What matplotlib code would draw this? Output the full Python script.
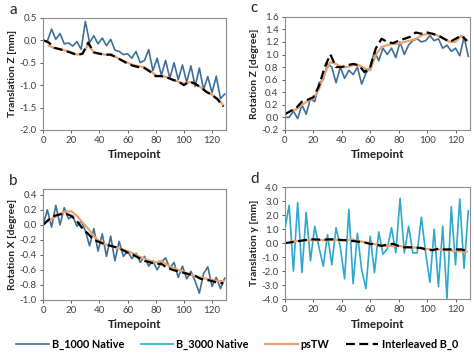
import matplotlib
matplotlib.use('Agg')
import matplotlib.pyplot as plt
from matplotlib.ticker import FuncFormatter
import numpy as np

plt.rcParams['font.family'] = ['Lato', 'DejaVu Sans']

# native series sampled every 3rd timepoint, smoothed/B_0 every 4th
t_native = np.arange(0, 130, 3)
t_smooth = np.arange(0, 129, 4)
nan = np.nan

# a: Translation Z [mm]
a_native = [0.0, -0.02, 0.25, 0.02, 0.15, -0.08, -0.06, -0.13, -0.03, -0.2, 0.42,
            -0.05, 0.1, -0.08, 0.05, -0.12, 0.02, -0.22, -0.25, -0.32, -0.3, -0.4,
            -0.25, -0.5, -0.45, -0.21, -0.68, -0.4, -0.78, -0.45, -0.85, -0.5, -0.88,
            -0.55, -0.94, -0.57, -1.03, -0.62, -1.1, -0.81, -1.17, -0.8, -1.3, -1.2]
a_b0 = [0.0, -0.05, -0.17, -0.2, -0.24, -0.28, -0.33, -0.3, -0.05, -0.27, -0.3,
        -0.32, -0.32, -0.38, -0.45, -0.52, -0.57, -0.6, -0.62, -0.7, -0.8, -0.8,
        -0.83, -0.88, -0.92, -1.0, -0.92, -0.97, -1.05, -1.15, -1.22, -1.32, -1.48]
a_pstw = [nan, -0.12, -0.17, -0.2, -0.23, -0.27, -0.32, -0.3, -0.1, -0.27, -0.3,
          -0.32, -0.33, -0.38, -0.45, -0.5, -0.55, -0.58, -0.6, -0.68, -0.78, -0.8,
          -0.82, -0.88, -0.92, -0.97, -0.93, -0.98, -1.05, -1.15, -1.22, -1.3, -1.45]

# c: Rotation Z [degree]
c_native = [0.0, 0.0, 0.1, -0.02, 0.2, 0.05, 0.3, 0.25, 0.55, 0.6, 0.85, 0.8, 0.55,
            0.8, 0.62, 0.75, 0.68, 0.8, 0.53, 0.7, 0.8, 1.05, 0.9, 1.1, 1.0, 1.1,
            0.95, 1.2, 1.0, 1.15, 1.22, 1.25, 1.2, 1.22, 1.3, 1.22, 1.25, 1.1, 1.15,
            1.05, 1.1, 0.98, 1.28, 0.97]
c_b0 = [0.05, 0.1, 0.15, 0.25, 0.28, 0.32, 0.5, 0.8, 1.0, 0.8, 0.8, 0.83, 0.85,
        0.83, 0.72, 0.8, 1.1, 1.25, 1.2, 1.18, 1.22, 1.25, 1.28, 1.35, 1.33, 1.35,
        1.33, 1.3, 1.25, 1.2, 1.25, 1.3, 1.22]
c_pstw = [nan, 0.1, 0.13, 0.2, 0.26, 0.3, 0.45, 0.7, 0.88, 0.85, 0.8, 0.8, 0.83,
          0.83, 0.78, 0.75, 1.0, 1.12, 1.15, 1.17, 1.17, 1.2, 1.22, 1.25, 1.3, 1.33,
          1.32, 1.3, 1.25, 1.2, 1.2, 1.3, 1.22]

# b: Rotation X [degree]
b_native = [0.0, 0.2, -0.03, 0.26, 0.0, 0.23, 0.08, 0.12, -0.02, 0.05, -0.08, -0.28,
            -0.05, -0.35, -0.12, -0.42, -0.15, -0.48, -0.22, -0.42, -0.35, -0.45,
            -0.38, -0.5, -0.42, -0.55, -0.48, -0.6, -0.5, -0.44, -0.58, -0.5, -0.7,
            -0.55, -0.72, -0.62, -0.75, -0.91, -0.65, -0.56, -0.82, -0.7, -0.85, -0.71]
b_b0 = [0.0, 0.07, 0.12, 0.14, 0.15, 0.12, 0.05, -0.05, -0.12, -0.2, -0.23, -0.26,
        -0.28, -0.3, -0.33, -0.37, -0.4, -0.44, -0.48, -0.5, -0.52, -0.52, -0.57,
        -0.6, -0.62, -0.64, -0.66, -0.68, -0.72, -0.73, -0.75, -0.77, -0.78]
b_pstw = [nan, 0.05, 0.1, 0.15, 0.18, 0.18, 0.12, 0.03, -0.05, -0.15, -0.22, -0.26,
          -0.28, -0.3, -0.33, -0.35, -0.38, -0.42, -0.45, -0.48, -0.5, -0.48, -0.53,
          -0.57, -0.6, -0.63, -0.66, -0.68, -0.7, -0.72, -0.73, -0.75, -0.75]

# d: Translation y [mm]
d_native = [1.0, 2.7, -2.0, 2.9, -2.1, 2.2, -1.25, 1.2, -0.3, -1.65, 0.6, -1.55,
            1.1, -0.3, -2.55, 2.4, -2.9, 0.7, -1.9, -3.25, 0.5, -2.1, 0.8, -0.8,
            -0.4, 1.1, -0.7, 3.2, -0.7, 1.2, -0.7, -0.7, 1.85, -0.7, -2.8, 1.0, -3.1,
            1.2, -3.95, 2.6, -1.55, 3.15, -1.8, 2.3]
d_b0 = [0.0, 0.05, 0.12, 0.18, 0.25, 0.27, 0.25, 0.25, 0.27, 0.27, 0.22, 0.2, 0.15,
        0.1, 0.05, -0.05, -0.1, -0.2, -0.1, -0.05, -0.2, -0.3, -0.3, -0.32, -0.35,
        -0.48, -0.5, -0.4, -0.45, -0.45, -0.45, -0.45, -0.55]
d_pstw = [nan, 0.1, 0.15, 0.18, 0.2, 0.2, 0.22, 0.2, 0.22, 0.22, 0.2, 0.22, 0.25,
          0.15, 0.05, 0.0, -0.1, -0.15, -0.2, -0.2, -0.2, -0.25, -0.3, -0.32, -0.38,
          -0.42, -0.45, -0.45, -0.5, -0.52, -0.55, -0.6, -0.62]

col_1000 = '#3f6f98'
col_3000 = '#2ea8cc'
col_pstw = '#eba36f'
tick_col = '#404040'

fig = plt.figure(figsize=(4.74, 3.57), dpi=100)

panels = [
    # letter, rect, native, native colour, b0, pstw, ylabel, ylim, yticks
    ('a', [0.091, 0.636, 0.386, 0.314], a_native, col_1000, a_b0, a_pstw,
     'Translation Z [mm]', (-2.0, 0.5), np.arange(-2.0, 0.51, 0.5)),
    ('c', [0.601, 0.636, 0.390, 0.317], c_native, col_1000, c_b0, c_pstw,
     'Rotation Z [degree]', (-0.2, 1.6), np.arange(-0.2, 1.61, 0.2)),
    ('b', [0.091, 0.160, 0.386, 0.311], b_native, col_1000, b_b0, b_pstw,
     'Rotation X [degree]', (-1.0, 0.48), np.arange(-1.0, 0.41, 0.2)),
    ('d', [0.601, 0.162, 0.390, 0.314], d_native, col_3000, d_b0, d_pstw,
     'Translation y [mm]', (-4.0, 4.0), np.arange(-4.0, 4.01, 1.0)),
]

fmt = FuncFormatter(lambda v, p: f'{v:.1f}' if abs(v) > 1e-9 else '0.0')

handles = {}
for letter, rect, native, ncol, b0, pstw, ylab, ylim, yt in panels:
    ax = fig.add_axes(rect)
    ln, = ax.plot(t_native, native, color=ncol, lw=1.2)
    handles['B_1000 Native' if ncol == col_1000 else 'B_3000 Native'] = ln
    lp, = ax.plot(t_smooth, pstw, color=col_pstw, lw=1.6)
    lb, = ax.plot(t_smooth, b0, color='black', lw=1.6, ls=(0, (4, 2)))
    handles['psTW'] = lp
    handles['Interleaved B_0'] = lb
    ax.set_xlim(0, 130)
    ax.set_ylim(*ylim)
    ax.set_xticks(np.arange(0, 121, 20))
    ax.set_yticks(yt)
    ax.yaxis.set_major_formatter(fmt)
    ax.tick_params(labelsize=7, colors=tick_col, length=2.5, width=0.6, pad=2)
    for s in ax.spines.values():
        s.set_color('#8c8c8c')
        s.set_linewidth(0.8)
    ax.set_xlabel('Timepoint', fontsize=8.5, fontweight='bold', color='#222222', labelpad=3)
    ax.set_ylabel(ylab, fontsize=7.5, fontweight='bold', color='#222222', labelpad=2)
    fig.text(rect[0] - 0.072, rect[1] + rect[3] + 0.012, letter, fontsize=11, color='#222222')

order = ['B_1000 Native', 'B_3000 Native', 'psTW', 'Interleaved B_0']
fig.legend([handles[k] for k in order], order, loc='center', bbox_to_anchor=(0.5, 0.035),
           ncol=4, frameon=False, handlelength=3.0, columnspacing=1.5, handletextpad=0.3,
           prop={'size': 7.8, 'weight': 'bold'})

fig.savefig('out.png', dpi=100)
